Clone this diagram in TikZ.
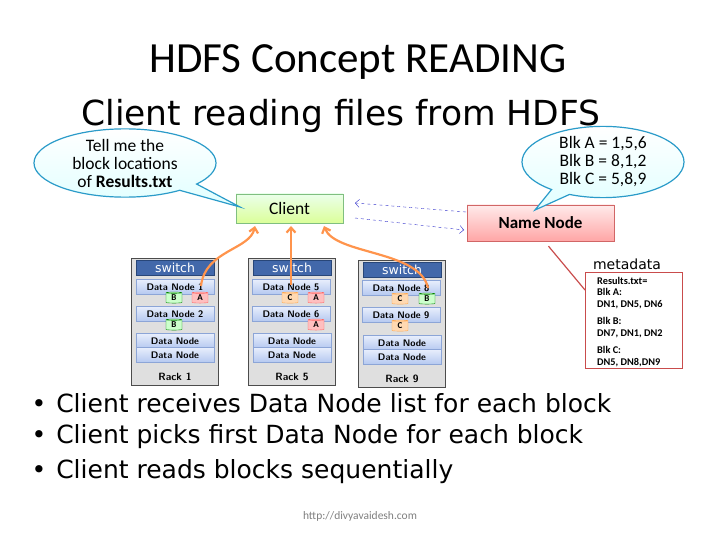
\documentclass[tikz,border=0pt]{standalone}
\usepackage{fontspec}
\setmainfont{Carlito}
\newfontfamily\verd{DejaVu Sans}
\usetikzlibrary{shapes.geometric,shapes.callouts,arrows.meta}
\definecolor{swblue}{RGB}{66,104,170}
\definecolor{swedge}{RGB}{40,70,120}
\definecolor{dnlight}{RGB}{232,238,252}
\definecolor{dndark}{RGB}{180,200,240}
\definecolor{dnedge}{RGB}{140,165,215}
\begin{document}
\begin{tikzpicture}[x=1pt,y=-1pt,
  bubble/.style={ellipse callout,draw=cyan!60!teal,line width=1.2pt,top color=white,bottom color=cyan!12,align=center,font=\fontsize{17.5}{18}\selectfont,inner sep=0pt},
  dnode/.style={draw=dnedge,top color=dnlight,bottom color=dndark,minimum width=78pt,minimum height=15pt,inner sep=0pt,font=\fontsize{9.5}{10}\selectfont\sffamily\bfseries},
  rackbox/.style={draw=black!70,fill=gray!25,minimum width=88pt,minimum height=127pt,anchor=north west},
  sw/.style={draw=swedge,fill=swblue,text=white,minimum width=78pt,minimum height=15pt,inner sep=0pt,font=\verd\fontsize{12.5}{12}\selectfont},
  cylA/.style={cylinder,shape border rotate=90,aspect=0.25,draw=red!60,fill=red!25,minimum width=16pt,minimum height=11pt,inner sep=0pt,font=\fontsize{9}{9}\selectfont\bfseries},
  cylB/.style={cylA,draw=green!50!black,fill=green!20},
  cylC/.style={cylA,draw=orange!70,fill=orange!30},
  oarr/.style={draw=orange!80!red!70,line width=2.2pt,-{Straight Barb[length=5pt,width=9pt]}},
  darr/.style={draw=blue!60!gray,dashed,thin,-{Straight Barb[length=4pt]}},
  bul/.style={anchor=west,font=\verd\fontsize{25}{25}\selectfont}]
\useasboundingbox (0,0) rectangle (720,540);
\fill[white] (0,0) rectangle (720,540);
\node (title) at (358,62) {\fontsize{43}{45}\selectfont HDFS Concept READING};
\node (sub) at (341,116) {\verd\fontsize{34.5}{36}\selectfont Client reading files from HDFS};

\node[draw=green!50!black!50,top color=green!8,bottom color=green!35!yellow!40,minimum width=107pt,minimum height=29pt,font=\fontsize{17.5}{18}\selectfont] (client) at (289.5,208.5) {Client};
\node[draw=red!70!black!60,top color=red!8,bottom color=red!35,minimum width=147pt,minimum height=36pt,font=\fontsize{17}{18}\selectfont\bfseries] (nn) at (540.5,223) {Name Node};

\node[bubble,minimum width=182pt,minimum height=66pt,callout absolute pointer={(240,207)}] (q) at (125,163) {Tell me the\\block locations\\of \textbf{Results.txt}};
\node[bubble,minimum width=162pt,minimum height=66pt,callout absolute pointer={(535,210)}] (r) at (603,162) {Blk A = 1,5,6\\Blk B = 8,1,2\\Blk C = 5,8,9};

\coordinate (c1) at (355,203); \coordinate (c2) at (355,218);
\coordinate (n1) at (466,212); \coordinate (n2) at (464,230);
\draw[darr] (n1) -- (c1);
\draw[darr] (c2) -- (n2);

\node[anchor=south,inner sep=1pt] (mdl) at (627,271) {\verd\fontsize{14}{14}\selectfont metadata};
\node[draw=red!70!black!70,line width=1.2pt,minimum width=97pt,minimum height=96pt,anchor=north west,inner sep=3pt] (meta) at (585,272) {};
\node[anchor=north west,align=left,inner sep=0pt,font=\fontsize{10.3}{11.5}\selectfont\bfseries] (mt) at (597,277) {Results.txt=\\Blk A:\\DN1, DN5, DN6\\[6pt]Blk B:\\DN7, DN1, DN2\\[6pt]Blk C:\\DN5, DN8,DN9};
\draw[red!70!black!70,line width=1.2pt] (nn.south)++(8,5) coordinate (nnl) -- (meta.west |- 0,290);

% racks
\foreach \id/\x/\y/\lab in {r1/131/258/Rack 1,r5/248/258/Rack 5,r9/358/260/Rack 9}{
  \node[rackbox,minimum width=87pt] (\id) at (\x,\y) {};
  \node[sw] (\id sw) at (\x+44,\y+9.5) {switch};
  \node[font=\fontsize{10.5}{11}\selectfont\sffamily\bfseries] (\id lab) at (\x+44,\y+119) {\lab};
  \node[dnode] (\id d3) at (\x+44,\y+83) {Data Node};
  \node[dnode] (\id d4) at (\x+44,\y+97) {Data Node};
}
\node[dnode] (dn1) at (175,287) {Data Node 1};
\node[dnode] (dn2) at (175,314) {Data Node 2};
\node[dnode] (dn5) at (291,287) {Data Node 5};
\node[dnode] (dn6) at (291,314) {Data Node 6};
\node[dnode] (dn8) at (401,288) {Data Node 8};
\node[dnode] (dn9) at (401,315) {Data Node 9};
\node[cylB] (b1) at (174,298) {B};
\node[cylA] (a1) at (200,298) {A};
\node[cylB] (b2) at (174,325) {B};
\node[cylC] (c5) at (290,298) {C};
\node[cylA] (a5) at (316,298) {A};
\node[cylA] (a6) at (316,325) {A};
\node[cylC] (c8) at (400,299) {C};
\node[cylB] (b8) at (427,299) {B};
\node[cylC] (c9) at (400,326) {C};

\coordinate (s1) at (201,286); \coordinate (s5) at (291,285); \coordinate (s8) at (428,288);
\draw[oarr] (s1) .. controls (205,250) and (250,250) .. (255,226);
\draw[oarr] (s5) -- (291,226);
\draw[oarr] (s8) .. controls (420,250) and (335,255) .. (324,226);

\node[bul] (t1) at (28,403) {•\hspace{10pt}Client receives Data Node list for each block};
\node[bul] (t2) at (28,437) {•\hspace{10pt}Client picks first Data Node for each block};
\node[bul] (t3) at (28,472) {•\hspace{10pt}Client reads blocks sequentially};
\node[text=gray,font=\fontsize{11.5}{12}\selectfont] (url) at (360,516) {http://divyavaidesh.com};
\end{tikzpicture}
\end{document}
